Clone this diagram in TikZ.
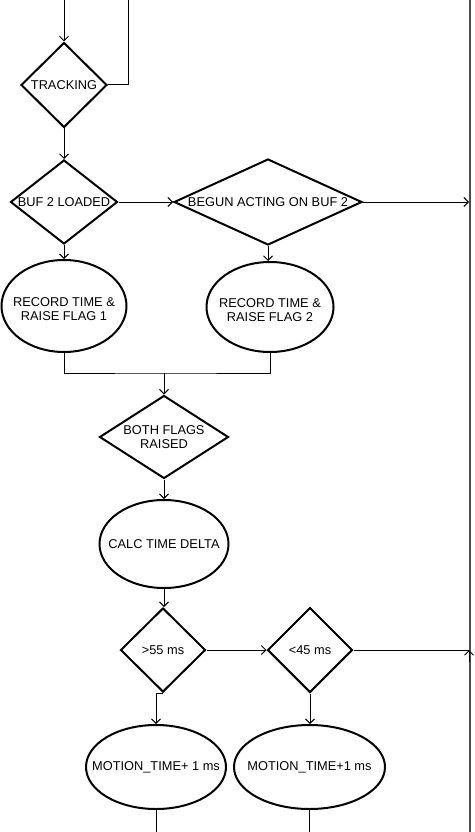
\documentclass[tikz,border=0pt]{standalone}
\usepackage{fontspec}
\setmainfont{Liberation Sans}
\usetikzlibrary{shapes.geometric,arrows.meta}
\tikzset{
  dec/.style={diamond, draw, line width=2pt, inner sep=0pt, miter limit=20, font=\fontsize{12.8}{14}\selectfont},
  proc/.style={ellipse, draw, line width=2pt, inner sep=0pt, font=\fontsize{12.8}{14}\selectfont},
  conn/.style={line width=1pt},
  arr/.style={conn, -{Straight Barb[length=4.5pt,width=9pt,line width=1pt]}},
  edge line/.style={line width=2pt, black!70}
}
\newcommand{\zb}[1]{\makebox[0pt]{#1}}
\newcommand{\zt}[3]{\makebox[0pt]{\raisebox{#3}[0pt][0pt]{\begin{tabular}{@{}c@{}}#1\\#2\end{tabular}}}}
\begin{document}
\begin{tikzpicture}[x=1pt,y=-1pt]
\useasboundingbox (0,0) rectangle (474,832);
\fill[white] (0,0) rectangle (474,832);
% right edge line
\coordinate (et) at (470,0);
\coordinate (eb) at (470,832);
\draw[edge line] (et) -- (eb);

\node[dec, minimum width=86pt, minimum height=85pt] (track) at (64,85) {\zb{TRACKING}};
\node[dec, minimum width=107pt, minimum height=84pt] (buf) at (64,202) {\zb{BUF 2 LOADED}};
\node[dec, minimum width=188pt, minimum height=86pt] (begun) at (268,202) {\zb{BEGUN ACTING ON BUF 2}};
\node[proc, minimum width=125pt, minimum height=92pt] (r1) at (64,306) {\zt{RECORD TIME \&}{RAISE FLAG 1}{-7.5pt}};
\node[proc, minimum width=127pt, minimum height=90pt] (r2) at (270,307) {\zt{RECORD TIME \&}{RAISE FLAG 2}{-7.5pt}};
\node[dec, minimum width=129pt, minimum height=83pt] (both) at (164,437) {\zt{BOTH FLAGS}{RAISED}{-5pt}};
\node[proc, minimum width=129pt, minimum height=88pt] (calc) at (164,544) {\zb{CALC TIME DELTA}};
\node[dec, minimum width=85pt, minimum height=84pt] (g55) at (163,650) {\zb{>55 ms}};
\node[dec, minimum width=85pt, minimum height=85pt] (l45) at (310,650) {\zb{<45 ms}};
\node[proc, minimum width=140pt, minimum height=84pt] (m1) at (156,767) {\zb{MOTION\_TIME+ 1 ms}};
\node[proc, minimum width=151pt, minimum height=84pt] (m2) at (309.5,767) {\zb{MOTION\_TIME+1 ms}};

\coordinate (t1) at (64,0);
\coordinate (t2) at (128,0);
\coordinate (tr) at (128,85);
\coordinate (bo) at (469,202);
\coordinate (lo) at (469,650);
\coordinate (lu) at (469,662);
\coordinate (mj) at (164,373);
\coordinate (b1) at (156,832);
\coordinate (b2) at (309.5,832);

\draw[arr] (t1) -- (track.north);
\draw[conn] (t2) -- (tr) -- (track.east);
\draw[arr] (track.south) -- (buf.north);
\draw[arr] (buf.east) -- (begun.west);
\draw[arr] (begun.east) -- (bo);
\draw[arr] (buf.south) -- (r1.north);
\draw[arr] (begun.south) -- (begun.south |- r2.north);
\draw[conn] (r1.south) |- (mj) -| (r2.south);
\draw[arr] (mj) -- (both.north);
\draw[arr] (both.south) -- (calc.north);
\draw[arr] (calc.south) -- (calc.south |- g55.north);
\draw[arr] (g55.east) -- (l45.west);
\draw[conn] (l45.east) -- (lo);
\draw[arr] (lu) -- (lo);
\draw[arr] (g55.south) -| (m1.north);
\draw[arr] (l45.south) -- (l45.south |- m2.north);
\draw[conn] (m1.south) -- (b1);
\draw[conn] (m2.south) -- (b2);
\end{tikzpicture}
\end{document}
